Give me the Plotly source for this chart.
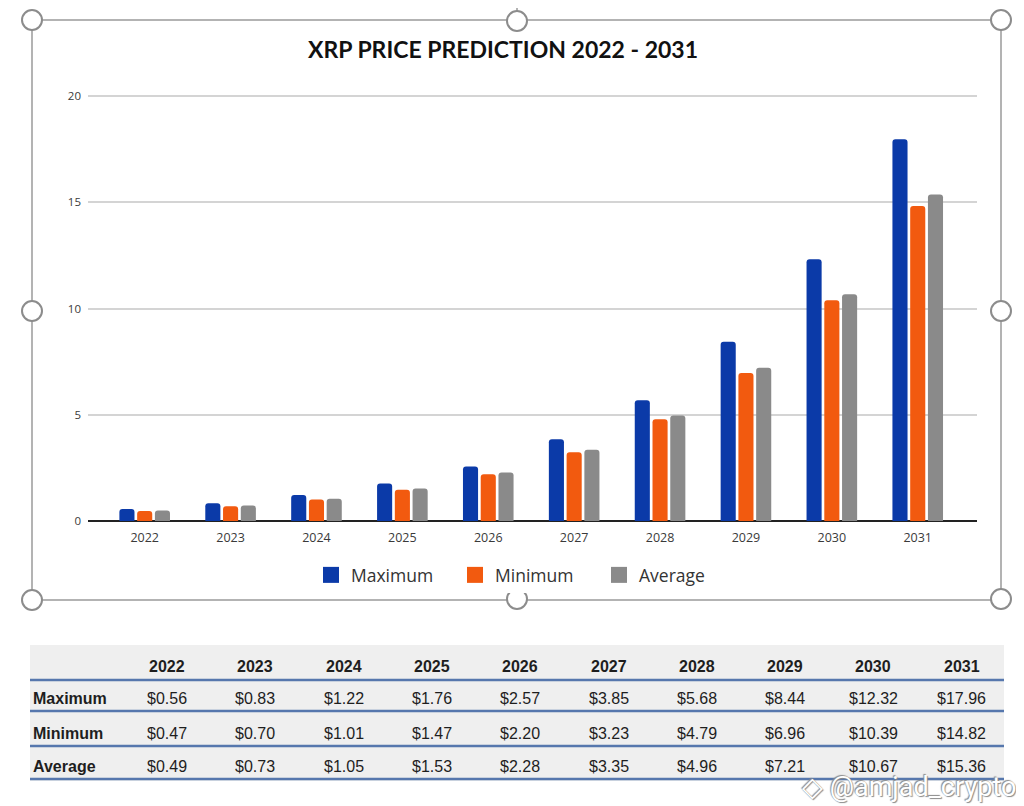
import plotly.graph_objects as go

# chart + table data
years = ['2022', '2023', '2024', '2025', '2026', '2027', '2028', '2029', '2030', '2031']
maximum = [0.56, 0.83, 1.22, 1.76, 2.57, 3.85, 5.68, 8.44, 12.32, 17.96]
minimum = [0.47, 0.70, 1.01, 1.47, 2.20, 3.23, 4.79, 6.96, 10.39, 14.82]
average = [0.49, 0.73, 1.05, 1.53, 2.28, 3.35, 4.96, 7.21, 10.67, 15.36]
series_names = ['Maximum', 'Minimum', 'Average']
y_ticks = [0, 5, 10, 15, 20]

W, H = 1024, 806
OFF = 8  # page body margin the figure gets drawn at


def px_x(x):
    return (x - OFF) / W


def px_y(y):
    return 1 - (y - OFF) / H


colors = {'Maximum': '#0b3aa8', 'Minimum': '#f25a0f', 'Average': '#8a8a8a'}

fig = go.Figure()
for name, vals in zip(series_names, [maximum, minimum, average]):
    fig.add_trace(go.Bar(
        x=years, y=vals, name=name, showlegend=False,
        marker=dict(color=colors[name], line=dict(width=0)),
    ))
# legend-only entries so the swatches come out as big squares
for name in series_names:
    fig.add_trace(go.Scatter(
        x=[None], y=[None], mode='markers', name=name,
        marker=dict(symbol='square', size=16, color=colors[name]),
    ))

shapes = []
annotations = []

# selection frame around the chart (screenshot of an office doc)
frame_col = '#9a9a9a'
shapes.append(dict(type='rect', xref='paper', yref='paper',
                   x0=px_x(32), x1=px_x(1001), y0=px_y(600), y1=px_y(20),
                   line=dict(color=frame_col, width=1.5)))
shapes.append(dict(type='line', xref='paper', yref='paper',
                   x0=px_x(517), x1=px_x(517), y0=px_y(0), y1=px_y(20),
                   line=dict(color=frame_col, width=1.5)))
r = 10
for hx, hy in [(32, 20), (517, 21), (1001, 20), (32, 311), (1001, 311),
               (32, 600), (517, 599), (1001, 599)]:
    shapes.append(dict(type='circle', xref='paper', yref='paper',
                       x0=px_x(hx - r), x1=px_x(hx + r), y0=px_y(hy + r), y1=px_y(hy - r),
                       fillcolor='white', line=dict(color='#8c8c8c', width=2)))

# table below the chart
tbl_left, tbl_right = 30, 1004
shapes.append(dict(type='rect', xref='paper', yref='paper', layer='below',
                   x0=px_x(tbl_left), x1=px_x(tbl_right), y0=px_y(781), y1=px_y(645),
                   fillcolor='#efefef', line=dict(width=0)))
for ly in [680, 711, 746, 779]:
    shapes.append(dict(type='line', xref='paper', yref='paper',
                       x0=px_x(tbl_left), x1=px_x(tbl_right), y0=px_y(ly), y1=px_y(ly),
                       line=dict(color='#5677ad', width=2.5)))

col_x = [167 + i * 88.3 for i in range(len(years))]
row_y = [698, 733, 766]
tfont = dict(family='Liberation Sans, Arial', size=16, color='#1e1e1e')
for cx, yr in zip(col_x, years):
    annotations.append(dict(xref='paper', yref='paper', x=px_x(cx), y=px_y(666),
                            text='<b>%s</b>' % yr, showarrow=False,
                            xanchor='center', yanchor='middle', font=tfont))
for ry, name, vals in zip(row_y, series_names, [maximum, minimum, average]):
    annotations.append(dict(xref='paper', yref='paper', x=px_x(31), y=px_y(ry),
                            text='<b>%s</b>' % name, showarrow=False,
                            xanchor='left', yanchor='middle', font=tfont))
    for cx, v in zip(col_x, vals):
        annotations.append(dict(xref='paper', yref='paper', x=px_x(cx), y=px_y(ry),
                                text='$%.2f' % v, showarrow=False,
                                xanchor='center', yanchor='middle', font=tfont))

# watermark
annotations.append(dict(xref='paper', yref='paper', x=px_x(1018), y=px_y(787),
                        text='◇ @amjad_crypto', showarrow=False,
                        xanchor='right', yanchor='middle',
                        font=dict(family='Roboto', size=27, color='#ffffff',
                                  shadow='1px 1px 1px #8a8a8a, -1px -1px 1px #8a8a8a')))

# y scale: 0 sits at 521px, 20 at 96px; small headroom so the top gridline shows
ppu = (521 - 96) / 20
y_top = 20.1

fig.update_layout(
    width=W, height=H,
    margin=dict(l=0, r=0, t=0, b=0, autoexpand=False),
    paper_bgcolor='white', plot_bgcolor='white',
    title=dict(text='XRP PRICE PREDICTION 2022 - 2031',
               x=px_x(503), xanchor='center', y=px_y(50), yanchor='middle',
               font=dict(family='Lato', size=23, color='#111111', weight='bold')),
    barmode='group', bargap=0.38, bargroupgap=0.15, barcornerradius=3,
    xaxis=dict(domain=[px_x(88), px_x(977)], type='category', range=[-0.66, 9.69],
               showgrid=False, showline=False, ticks='', automargin=False,
               ticklabelstandoff=7,
               tickfont=dict(family='Open Sans', size=12.5, color='#3a3a3a')),
    yaxis=dict(domain=[px_y(521), px_y(521 - y_top * ppu)], range=[0, y_top],
               tickvals=y_ticks,
               showgrid=True, gridcolor='#d4d4d4', gridwidth=1.5,
               zeroline=True, zerolinecolor='#222222', zerolinewidth=2,
               showline=False, ticks='', automargin=False,
               ticklabelstandoff=6,
               tickfont=dict(family='Open Sans', size=11.5, color='#3a3a3a')),
    legend=dict(orientation='h', x=px_x(527), xanchor='center',
                y=px_y(575), yanchor='middle',
                font=dict(family='Open Sans', size=17.5, color='#333333'),
                itemwidth=30, entrywidth=99, entrywidthmode='pixels'),
    shapes=shapes,
    annotations=annotations,
    showlegend=True,
)

fig.write_html("out.html")
